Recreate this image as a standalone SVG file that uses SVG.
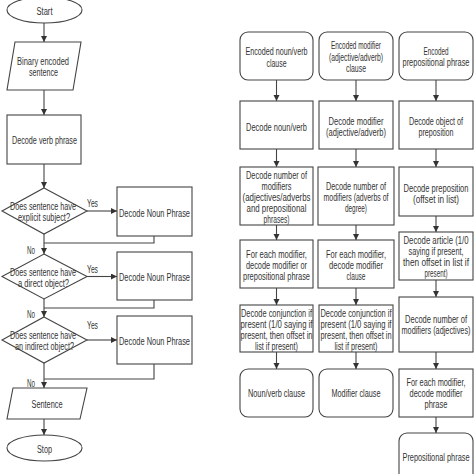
<svg xmlns="http://www.w3.org/2000/svg" width="474" height="474" viewBox="0 0 474 474">
<style>
.s{fill:#fff;stroke:#444;stroke-width:1.1}
.c{fill:none;stroke:#444;stroke-width:1.1}
text{font-family:"Liberation Sans",Arial,sans-serif;font-size:10px;fill:#333;text-anchor:middle}
</style>
<defs>
<marker id="a" markerUnits="userSpaceOnUse" markerWidth="7" markerHeight="7" refX="6" refY="3" orient="auto">
<path d="M0,0 L6,3 L0,6 z" fill="#333"/>
</marker>
</defs>
<rect width="474" height="474" fill="#fff"/>
<g id="connectors">
<path class="c" d="M44,23 V42" marker-end="url(#a)"/>
<path class="c" d="M44,90 V115" marker-end="url(#a)"/>
<path class="c" d="M44,164 V188" marker-end="url(#a)"/>
<path class="c" d="M87,211 H117" marker-end="url(#a)"/>
<path class="c" d="M154,236 V243 H44"/>
<path class="c" d="M44,234 V254" marker-end="url(#a)"/>
<path class="c" d="M87,276.5 H117" marker-end="url(#a)"/>
<path class="c" d="M154,300 V308 H44"/>
<path class="c" d="M44,299 V317" marker-end="url(#a)"/>
<path class="c" d="M87,340 H117" marker-end="url(#a)"/>
<path class="c" d="M154,364 V379 H44"/>
<path class="c" d="M44,363 V388" marker-end="url(#a)"/>
<path class="c" d="M44,419 V435" marker-end="url(#a)"/>
<text x="92.5" y="206.5" textLength="11" lengthAdjust="spacingAndGlyphs">Yes</text>
<text x="92.5" y="272.5" textLength="11" lengthAdjust="spacingAndGlyphs">Yes</text>
<text x="92.5" y="328.5" textLength="11" lengthAdjust="spacingAndGlyphs">Yes</text>
<text x="31" y="253.5" textLength="8" lengthAdjust="spacingAndGlyphs">No</text>
<text x="31" y="317.5" textLength="8" lengthAdjust="spacingAndGlyphs">No</text>
<text x="31" y="386.5" textLength="8" lengthAdjust="spacingAndGlyphs">No</text>
<path class="c" d="M276.5,80 V101" marker-end="url(#a)"/>
<path class="c" d="M276.5,149 V167" marker-end="url(#a)"/>
<path class="c" d="M276.5,225 V240" marker-end="url(#a)"/>
<path class="c" d="M276.5,288 V305" marker-end="url(#a)"/>
<path class="c" d="M276.5,352 V369" marker-end="url(#a)"/>
<path class="c" d="M356,80 V101" marker-end="url(#a)"/>
<path class="c" d="M356,149 V167" marker-end="url(#a)"/>
<path class="c" d="M356,225 V240" marker-end="url(#a)"/>
<path class="c" d="M356,288 V305" marker-end="url(#a)"/>
<path class="c" d="M356,352 V369" marker-end="url(#a)"/>
<path class="c" d="M436,80 V101" marker-end="url(#a)"/>
<path class="c" d="M436,149 V167" marker-end="url(#a)"/>
<path class="c" d="M436,216 V232" marker-end="url(#a)"/>
<path class="c" d="M436,280 V297" marker-end="url(#a)"/>
<path class="c" d="M436,352 V369" marker-end="url(#a)"/>
<path class="c" d="M436,417 V433" marker-end="url(#a)"/>
</g>
<g id="start"><ellipse class="s" cx="44.5" cy="10" rx="37.5" ry="13"/><text x="44.5" y="14.5" textLength="16" lengthAdjust="spacingAndGlyphs">Start</text></g>
<g id="input"><polygon class="s" points="15,42 81,42 73,90 7,90"/><text x="43" y="64.5" textLength="52" lengthAdjust="spacingAndGlyphs">Binary encoded</text><text x="43.5" y="75.5" textLength="29" lengthAdjust="spacingAndGlyphs">sentence</text></g>
<g id="verb"><rect class="s" x="7" y="115" width="74" height="49"/><text x="44.5" y="143.5" textLength="65" lengthAdjust="spacingAndGlyphs">Decode verb phrase</text></g>
<g id="d1"><polygon class="s" points="44,188 87,211 44,234 2,211"/><text x="43" y="209.5" textLength="66" lengthAdjust="spacingAndGlyphs">Does sentence have</text><text x="44" y="220.5" textLength="52" lengthAdjust="spacingAndGlyphs">explicit subject?</text></g>
<g id="n1"><rect class="s" x="117" y="187" width="75" height="49"/><text x="154.5" y="216.5" textLength="71" lengthAdjust="spacingAndGlyphs">Decode Noun Phrase</text></g>
<g id="d2"><polygon class="s" points="44,254 87,276.5 44,299 2,276.5"/><text x="43" y="275.5" textLength="66" lengthAdjust="spacingAndGlyphs">Does sentence have</text><text x="43.5" y="286.5" textLength="51" lengthAdjust="spacingAndGlyphs">a direct object?</text></g>
<g id="n2"><rect class="s" x="117" y="252" width="75" height="48"/><text x="154.5" y="280.5" textLength="71" lengthAdjust="spacingAndGlyphs">Decode Noun Phrase</text></g>
<g id="d3"><polygon class="s" points="44,317 87,340 44,363 2,340"/><text x="43" y="338.5" textLength="66" lengthAdjust="spacingAndGlyphs">Does sentence have</text><text x="44.5" y="349.5" textLength="59" lengthAdjust="spacingAndGlyphs">an indirect object?</text></g>
<g id="n3"><rect class="s" x="117" y="316" width="75" height="48"/><text x="154.5" y="344.5" textLength="71" lengthAdjust="spacingAndGlyphs">Decode Noun Phrase</text></g>
<g id="output"><polygon class="s" points="13,388 87,388 80,419 7,419"/><text x="47" y="407.5" textLength="31" lengthAdjust="spacingAndGlyphs">Sentence</text></g>
<g id="stop"><ellipse class="s" cx="44.5" cy="448" rx="37.5" ry="13"/><text x="44.5" y="452.5" textLength="15" lengthAdjust="spacingAndGlyphs">Stop</text></g>

<g id="c1r1"><rect class="s" x="240" y="32" width="73" height="48" rx="8"/><text x="276.5" y="54.5" textLength="62" lengthAdjust="spacingAndGlyphs">Encoded noun/verb</text><text x="276.5" y="66.5" textLength="20" lengthAdjust="spacingAndGlyphs">clause</text></g>
<g id="c1r2"><rect class="s" x="240" y="101" width="73" height="48"/><text x="276.5" y="130.5" textLength="61" lengthAdjust="spacingAndGlyphs">Decode noun/verb</text></g>
<g id="c1r3"><rect class="s" x="240" y="167" width="73" height="58"/><text x="276.5" y="178.5" textLength="61" lengthAdjust="spacingAndGlyphs">Decode number of</text><text x="276.5" y="189.5" textLength="30" lengthAdjust="spacingAndGlyphs">modifiers</text><text x="276.5" y="200.5" textLength="68" lengthAdjust="spacingAndGlyphs">(adjectives/adverbs</text><text x="276.5" y="211.5" textLength="60" lengthAdjust="spacingAndGlyphs">and prepositional</text><text x="276.5" y="222.5" textLength="26" lengthAdjust="spacingAndGlyphs">phrases)</text></g>
<g id="c1r4"><rect class="s" x="240" y="240" width="73" height="48"/><text x="276.5" y="257.5" textLength="61" lengthAdjust="spacingAndGlyphs">For each modifier,</text><text x="276.5" y="268.5" textLength="61" lengthAdjust="spacingAndGlyphs">decode modifier or</text><text x="276.5" y="279.5" textLength="67" lengthAdjust="spacingAndGlyphs">prepositional phrase</text></g>
<g id="c1r5"><rect class="s" x="240" y="305" width="73" height="47"/><text x="276.5" y="316.5" textLength="71" lengthAdjust="spacingAndGlyphs">Decode conjunction if</text><text x="276.5" y="327.5" textLength="72" lengthAdjust="spacingAndGlyphs">present (1/0 saying if</text><text x="276.5" y="338.5" textLength="72" lengthAdjust="spacingAndGlyphs">present, then offset in</text><text x="276.5" y="349.5" textLength="43" lengthAdjust="spacingAndGlyphs">list if present)</text></g>
<g id="c1r6"><rect class="s" x="240" y="369" width="73" height="48" rx="8"/><text x="276.5" y="396.5" textLength="57" lengthAdjust="spacingAndGlyphs">Noun/verb clause</text></g>

<g id="c2r1"><rect class="s" x="319" y="32" width="74" height="48" rx="8"/><text x="356" y="48.5" textLength="50" lengthAdjust="spacingAndGlyphs">Encoded modifier</text><text x="356" y="60.5" textLength="54" lengthAdjust="spacingAndGlyphs">(adjective/adverb)</text><text x="356" y="71.5" textLength="20" lengthAdjust="spacingAndGlyphs">clause</text></g>
<g id="c2r2"><rect class="s" x="319" y="101" width="74" height="48"/><text x="356" y="124.5" textLength="55" lengthAdjust="spacingAndGlyphs">Decode modifier</text><text x="356" y="135.5" textLength="60" lengthAdjust="spacingAndGlyphs">(adjective/adverb)</text></g>
<g id="c2r3"><rect class="s" x="318" y="167" width="76" height="58"/><text x="356" y="189.5" textLength="60" lengthAdjust="spacingAndGlyphs">Decode number of</text><text x="356" y="200.5" textLength="65" lengthAdjust="spacingAndGlyphs">modifiers (adverbs of</text><text x="356" y="211.5" textLength="22" lengthAdjust="spacingAndGlyphs">degree)</text></g>
<g id="c2r4"><rect class="s" x="318" y="240" width="76" height="48"/><text x="356" y="257.5" textLength="60" lengthAdjust="spacingAndGlyphs">For each modifier,</text><text x="356" y="268.5" textLength="54" lengthAdjust="spacingAndGlyphs">decode modifier</text><text x="356" y="279.5" textLength="19" lengthAdjust="spacingAndGlyphs">clause</text></g>
<g id="c2r5"><rect class="s" x="319" y="305" width="74" height="47"/><text x="356" y="316.5" textLength="71" lengthAdjust="spacingAndGlyphs">Decode conjunction if</text><text x="356" y="327.5" textLength="71" lengthAdjust="spacingAndGlyphs">present (1/0 saying if</text><text x="356" y="338.5" textLength="71" lengthAdjust="spacingAndGlyphs">present, then offset in</text><text x="356" y="349.5" textLength="43" lengthAdjust="spacingAndGlyphs">list if present)</text></g>
<g id="c2r6"><rect class="s" x="319" y="369" width="74" height="48" rx="8"/><text x="356" y="396.5" textLength="49" lengthAdjust="spacingAndGlyphs">Modifier clause</text></g>

<g id="c3r1"><rect class="s" x="399" y="32" width="74" height="48" rx="8"/><text x="436" y="54.5" textLength="25" lengthAdjust="spacingAndGlyphs">Encoded</text><text x="436" y="65.5" textLength="67" lengthAdjust="spacingAndGlyphs">prepositional phrase</text></g>
<g id="c3r2"><rect class="s" x="399" y="101" width="74" height="48"/><text x="436" y="124.5" textLength="54" lengthAdjust="spacingAndGlyphs">Decode object of</text><text x="436" y="135.5" textLength="35" lengthAdjust="spacingAndGlyphs">preposition</text></g>
<g id="c3r3"><rect class="s" x="399" y="167" width="74" height="49"/><text x="436" y="191.5" textLength="65" lengthAdjust="spacingAndGlyphs">Decode preposition</text><text x="436" y="202.5" textLength="46" lengthAdjust="spacingAndGlyphs">(offset in list)</text></g>
<g id="c3r4"><rect class="s" x="399" y="232" width="74" height="48"/><text x="436" y="243.5" textLength="65" lengthAdjust="spacingAndGlyphs">Decode article (1/0</text><text x="436" y="254.5" textLength="55" lengthAdjust="spacingAndGlyphs">saying if present,</text><text x="436" y="265.5" textLength="66" lengthAdjust="spacingAndGlyphs">then offset in list if</text><text x="436" y="276.5" textLength="23" lengthAdjust="spacingAndGlyphs">present)</text></g>
<g id="c3r5"><rect class="s" x="399" y="297" width="74" height="55"/><text x="436" y="322.5" textLength="62" lengthAdjust="spacingAndGlyphs">Decode number of</text><text x="436" y="333.5" textLength="69" lengthAdjust="spacingAndGlyphs">modifiers (adjectives)</text></g>
<g id="c3r6"><rect class="s" x="399" y="369" width="74" height="48"/><text x="436" y="385.5" textLength="59" lengthAdjust="spacingAndGlyphs">For each modifier,</text><text x="436" y="396.5" textLength="53" lengthAdjust="spacingAndGlyphs">decode modifier</text><text x="436" y="407.5" textLength="23" lengthAdjust="spacingAndGlyphs">phrase</text></g>
<g id="c3r7"><rect class="s" x="399" y="433" width="74" height="50" rx="8"/><text x="436" y="460.5" textLength="67" lengthAdjust="spacingAndGlyphs">Prepositional phrase</text></g>
</svg>
